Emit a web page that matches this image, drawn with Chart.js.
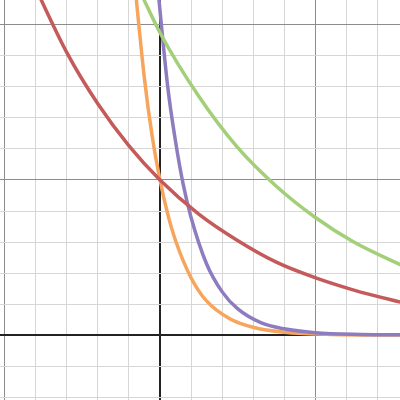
<!DOCTYPE html>
<html>
<head>
<meta charset="utf-8">
<script src="https://cdn.jsdelivr.net/npm/chart.js@4"></script>
<style>
  html, body { margin: 0; padding: 0; background: #fff; }
  #wrap { width: 400px; height: 400px; }
</style>
</head>
<body>
<div id="wrap"><canvas id="c"></canvas></div>
<script>
// values (graph units)
const redX = [-0.85, -0.6, -0.4, -0.2, 0, 0.25, 0.5, 0.75, 1.0, 1.25, 1.6];
const redY = [2.34, 1.82, 1.49, 1.22, 1.0, 0.78, 0.61, 0.47, 0.37, 0.29, 0.20];
const greenX = [-0.14, 0, 0.25, 0.5, 0.75, 1.0, 1.25, 1.6];
const greenY = [2.24, 1.95, 1.54, 1.21, 0.96, 0.76, 0.60, 0.43];
const orangeX = [-0.17, -0.1, -0.05, 0, 0.05, 0.1, 0.2, 0.3, 0.45, 0.6, 0.8, 1.1, 1.6];
const orangeY = [2.34, 1.65, 1.28, 1.0, 0.78, 0.61, 0.37, 0.22, 0.105, 0.05, 0.018, 0.004, 0.0];
const purpleX = [-0.02, 0.05, 0.1, 0.15, 0.2, 0.3, 0.4, 0.5, 0.65, 0.8, 1.0, 1.3, 1.6];
const purpleY = [2.30, 1.60, 1.25, 0.97, 0.76, 0.46, 0.28, 0.17, 0.08, 0.04, 0.015, 0.004, 0.001];

const gridTicks = [];
for (let i = -10; i <= 15; i++) gridTicks.push(i / 5);

const pts = (xs, ys) => xs.map((x, i) => ({ x: x, y: ys[i] }));
const line = (xs, ys, color) => ({
    data: pts(xs, ys), borderColor: color, borderWidth: 3.5,
    showLine: true, pointRadius: 0, cubicInterpolationMode: 'monotone', fill: false
});

function gridColor(ctx) {
    const v = Math.round(ctx.tick.value * 5);
    if (v === 0) return '#222';
    if (v % 5 === 0) return '#8c8c8c';
    return '#d6d6d6';
}
function gridWidth(ctx) {
    const v = Math.round(ctx.tick.value * 5);
    return v === 0 ? 2 : 1;
}
const axis = (min, max) => ({
    type: 'linear', min: min, max: max,
    afterBuildTicks: a => { a.ticks = gridTicks.filter(t => t >= min && t <= max).map(t => ({ value: t })); },
    ticks: { display: false },
    border: { display: false },
    grid: { color: gridColor, lineWidth: gridWidth, drawTicks: false }
});

new Chart(document.getElementById('c'), {
    type: 'scatter',
    data: {
        datasets: [
            line(greenX, greenY, '#a3cf78'),
            line(redX, redY, '#c45a5a'),
            line(purpleX, purpleY, '#8d7cc0'),
            line(orangeX, orangeY, '#f7a45c')
        ]
    },
    options: {
        responsive: true, maintainAspectRatio: false, animation: false,
        layout: { padding: 0 },
        plugins: { legend: { display: false }, tooltip: { enabled: false } },
        scales: { x: axis(-1.032, 1.548), y: axis(-0.419, 2.161) }
    }
});
</script>
</body>
</html>
